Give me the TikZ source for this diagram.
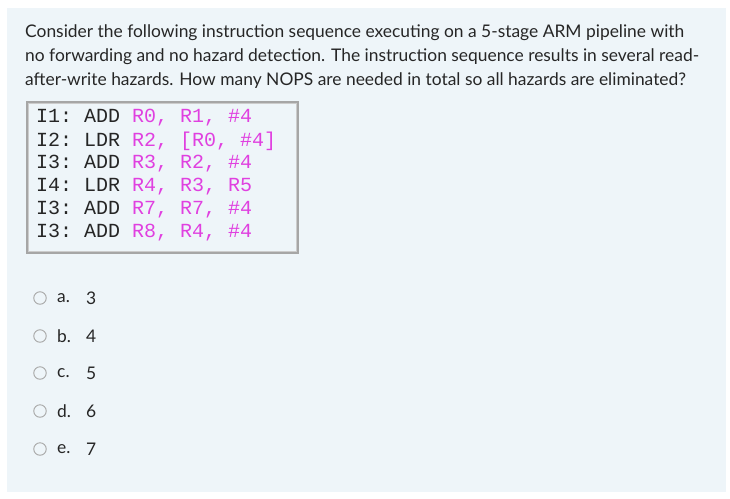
\documentclass[tikz,border=0pt]{standalone}
\usepackage{fontspec}
\setmainfont{Lato}
\setmonofont{Liberation Mono}
\definecolor{panel}{HTML}{EEF5F9}
\definecolor{pink}{HTML}{E040E0}
\definecolor{txt}{HTML}{262626}
\begin{document}
\begin{tikzpicture}[x=1pt,y=-1pt,
  q/.style={anchor=west,inner sep=0,text=txt,font=\fontsize{17.4}{20}\selectfont},
  code/.style={anchor=west,inner sep=0,text=txt,font=\ttfamily\fontsize{20}{22}\selectfont},
  radio/.style={circle,draw=gray!70,line width=0.9pt,minimum size=12.5pt,inner sep=0}]
\useasboundingbox (0,0) rectangle (730,498);
\fill[white] (0,0) rectangle (730,498);
\fill[panel] (7,8) rectangle (726,492);
\node[q] (l1) at (25,33) {Consider the following instruction sequence executing on a 5-stage ARM pipeline with};
\node[q] (l2) at (25,57) {no forwarding and no hazard detection. The instruction sequence results in several read-};
\node[q] (l3) at (25,81) {after-write hazards. How many NOPS are needed in total so all hazards are eliminated?};
\draw[gray!70,line width=1.2pt] (27,102) rectangle (298,253);
\draw[gray!40,line width=0.6pt] (28.5,103.5) rectangle (296.5,251.5);
\newcommand{\pk}[1]{\textcolor{pink}{#1}}
\node[code] (c1) at (36,118) {I1: ADD \pk{R0, R1, \#4}};
\node[code] (c2) at (36,141) {I2: LDR \pk{R2, [R0, \#4]}};
\node[code] (c3) at (36,164) {I3: ADD \pk{R3, R2, \#4}};
\node[code] (c4) at (36,187) {I4: LDR \pk{R4, R3, R5}};
\node[code] (c5) at (36,210) {I3: ADD \pk{R7, R7, \#4}};
\node[code] (c6) at (36,233) {I3: ADD \pk{R8, R4, \#4}};
\foreach \n/\l/\v/\y in {a/a./3/298,b/b./4/336,c/c./5/373,d/d./6/411,e/e./7/449}{
  \node[radio] (r\n) at (40,\y) {};
  \node[q] (o\n) at (57,\y) {\l};
  \node[q] (v\n) at (86,\y) {\v};
}
\end{tikzpicture}
\end{document}
